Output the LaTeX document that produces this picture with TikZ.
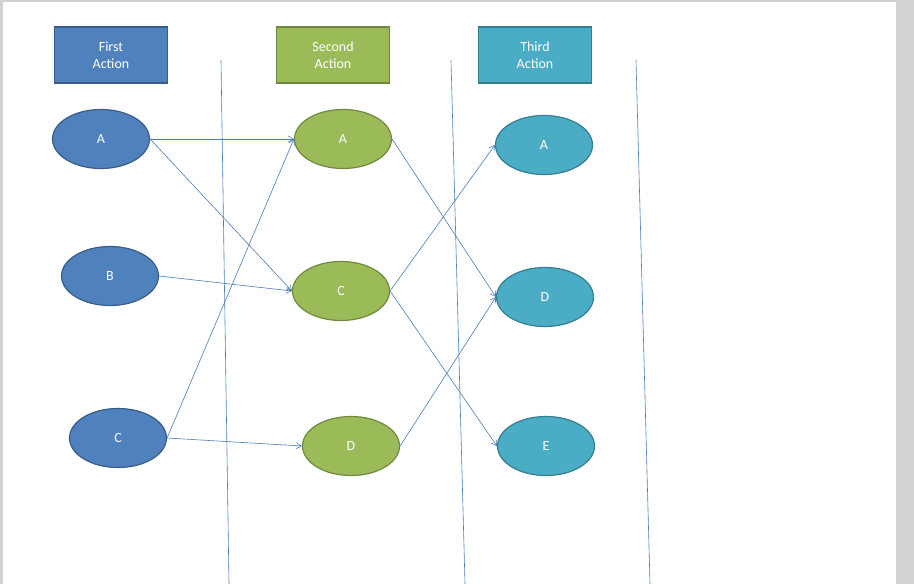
\documentclass[tikz,border=0pt]{standalone}
\usepackage{fontspec}
\setmainfont{Carlito}
\usetikzlibrary{shapes.geometric,arrows.meta}
\definecolor{cb}{HTML}{4F81BD}\definecolor{cbd}{HTML}{385D8A}
\definecolor{cg}{HTML}{9BBB59}\definecolor{cgd}{HTML}{71893F}
\definecolor{ct}{HTML}{4BACC6}\definecolor{ctd}{HTML}{357D91}
\definecolor{ln}{HTML}{4A7EBB}
\tikzset{
 hdr/.style={draw=#1, line width=1.2pt, minimum width=113pt, minimum height=56pt, text=white, align=center, font=\fontsize{14}{17}\selectfont},
 ell/.style={ellipse, draw=#1, line width=1.2pt, minimum width=97pt, minimum height=59pt, text=white, font=\fontsize{14}{17}\selectfont},
 conn/.style={ln, line width=0.6pt, -{Straight Barb[length=5pt,width=6pt]}},
 sep/.style={ln, line width=0.6pt}
}
\begin{document}
\begin{tikzpicture}[x=1pt,y=-1pt]
\useasboundingbox (0,0) rectangle (914,584);
\fill[gray!35] (0,0) rectangle (914,584);
\fill[white] (3,2) rectangle (896,584);
\node[hdr=cbd, fill=cb] (h1) at (111,55) {First\\Action};
\node[hdr=cgd, fill=cg] (h2) at (333,55) {Second\\Action};
\node[hdr=ctd, fill=ct] (h3) at (535,55) {Third\\Action};
\coordinate (s1a) at (221,60); \coordinate (s1b) at (229,584);
\coordinate (s2a) at (451,60); \coordinate (s2b) at (465,584);
\coordinate (s3a) at (636,60); \coordinate (s3b) at (650,584);
\draw[sep] (s1a)--(s1b); \draw[sep] (s2a)--(s2b); \draw[sep] (s3a)--(s3b);
\node[ell=cbd, fill=cb] (la) at (101,139) {A};
\node[ell=cbd, fill=cb] (lb) at (110,276) {B};
\node[ell=cbd, fill=cb] (lc) at (118,438) {C};
\node[ell=cgd, fill=cg] (ma) at (343,139) {A};
\node[ell=cgd, fill=cg] (mc) at (341,291) {C};
\node[ell=cgd, fill=cg] (md) at (351,446) {D};
\node[ell=ctd, fill=ct] (ra) at (544,145) {A};
\node[ell=ctd, fill=ct] (rd) at (545,297) {D};
\node[ell=ctd, fill=ct] (re) at (546,446) {E};
\draw[conn] (la.east) -- (ma.west);
\draw[conn] (la.east) -- (mc.west);
\draw[conn] (lb.east) -- (mc.west);
\draw[conn] (lc.east) -- (ma.west);
\draw[conn] (lc.east) -- (md.west);
\draw[conn] (ma.east) -- (rd.west);
\draw[conn] (mc.east) -- (ra.west);
\draw[conn] (mc.east) -- (re.west);
\draw[conn] (md.east) -- (rd.west);
\end{tikzpicture}
\end{document}
